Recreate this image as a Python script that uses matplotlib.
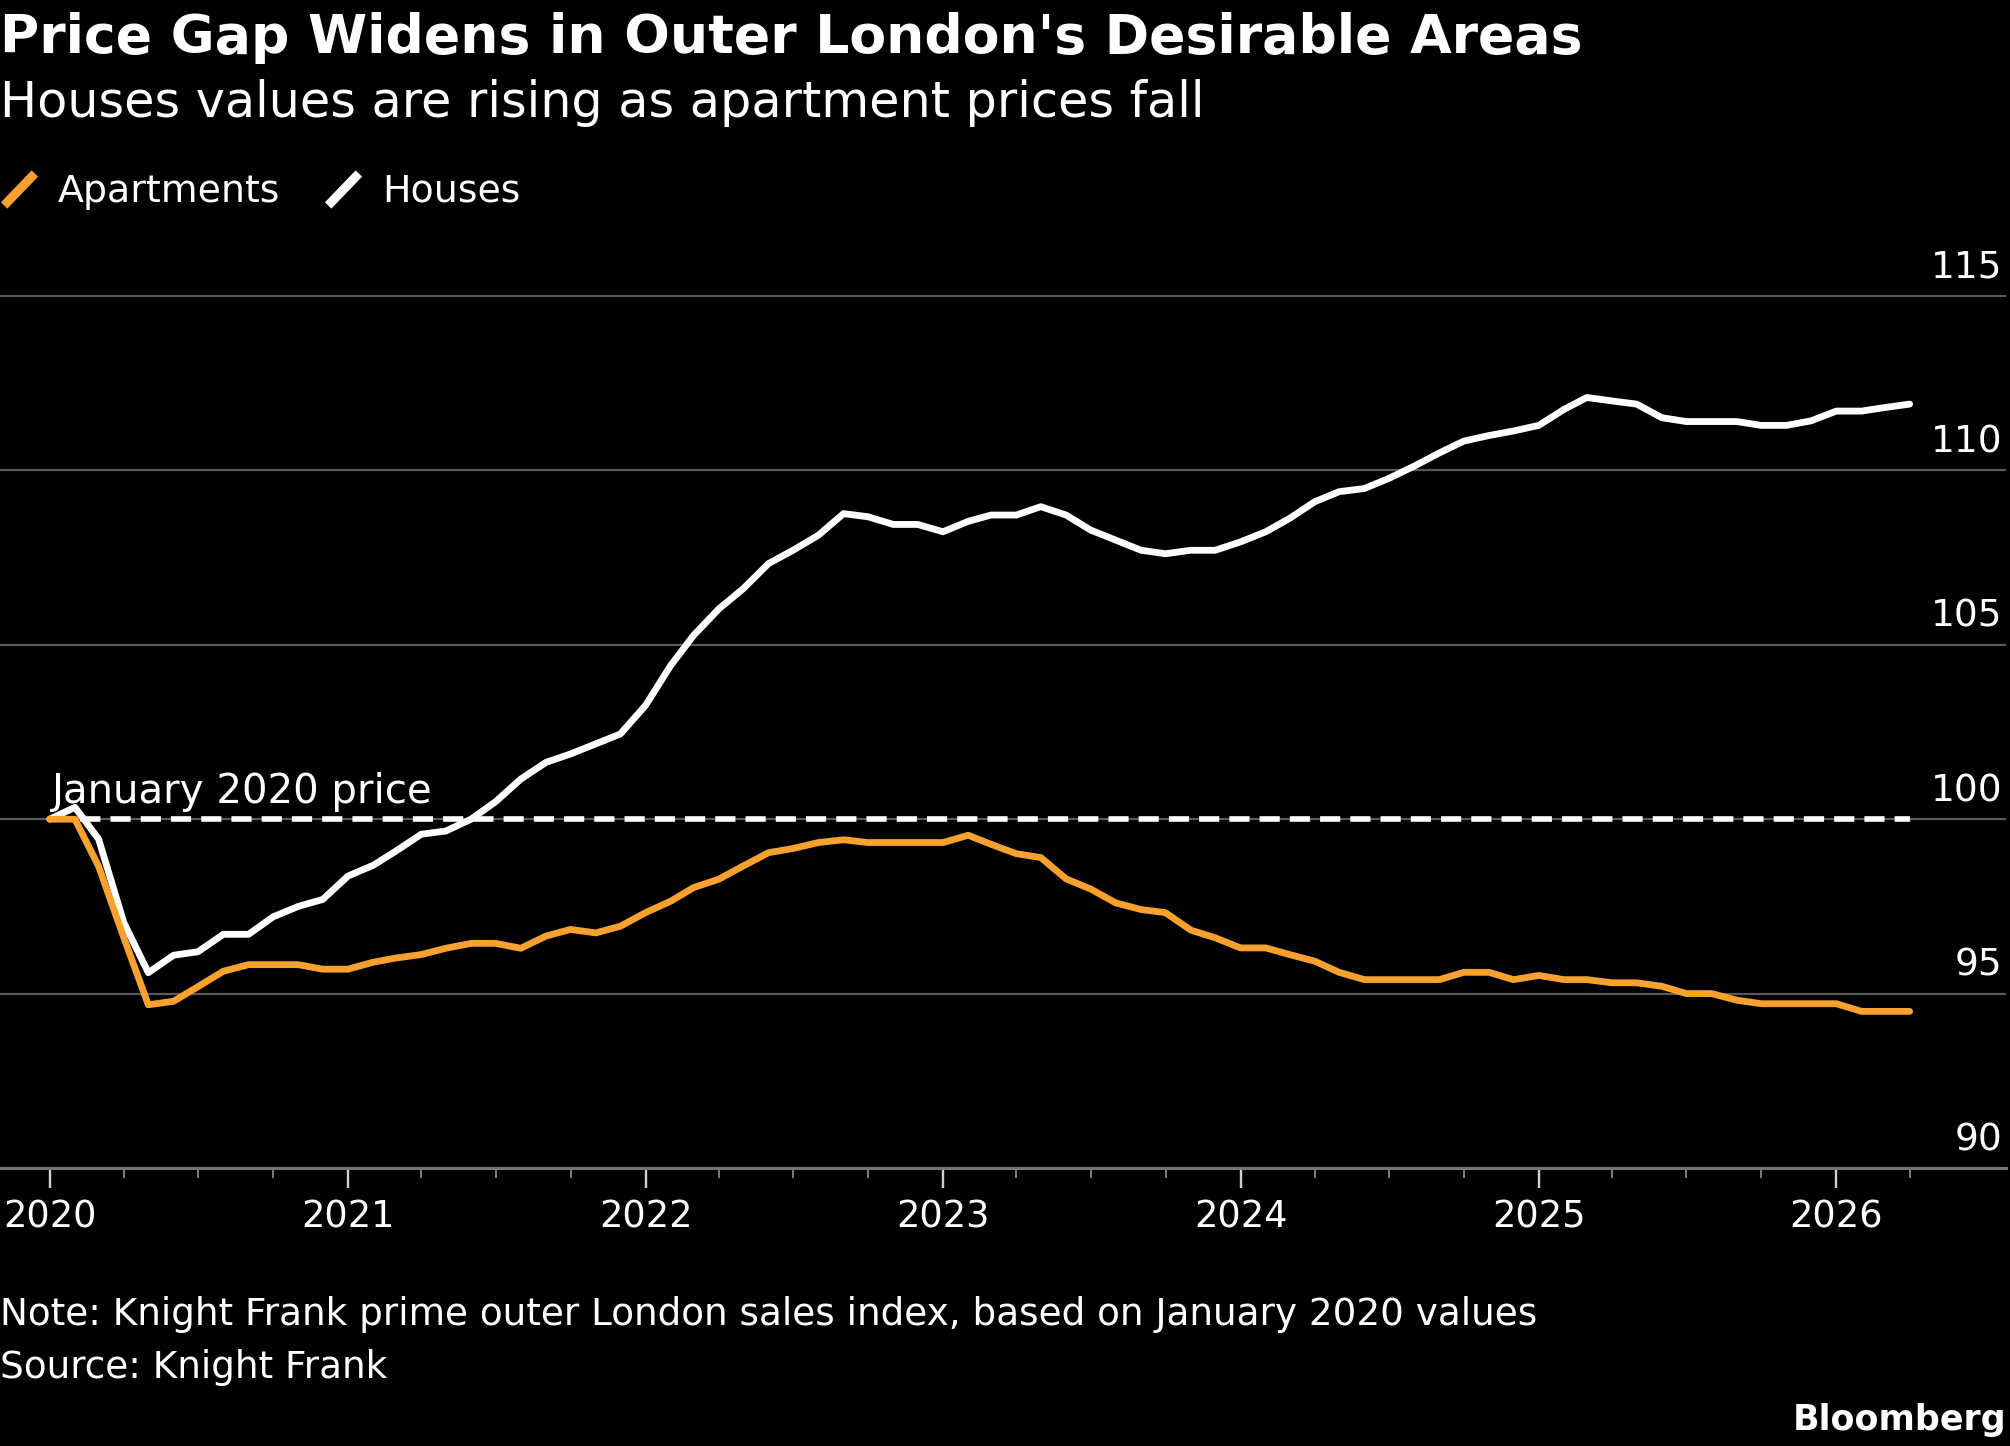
import numpy as np
import pandas as pd
import matplotlib
matplotlib.use("Agg")
import matplotlib.pyplot as plt
import matplotlib.dates as mdates
from matplotlib.path import Path
from matplotlib.lines import Line2D
from matplotlib.transforms import ScaledTranslation

# ---------------- data ----------------
start_month = "2020-01-01"
apartments = [
    100.0, 100.0, 98.65, 96.6, 94.68, 94.78, 95.2, 95.64, 95.83, 95.83, 95.83, 95.7,
    95.7, 95.9, 96.02, 96.12, 96.3, 96.44, 96.44, 96.3, 96.65, 96.84, 96.74, 96.93,
    97.32, 97.65, 98.04, 98.28, 98.66, 99.04, 99.16, 99.33, 99.41, 99.33, 99.33, 99.33,
    99.33, 99.54, 99.28, 99.01, 98.9, 98.29, 98.0, 97.6, 97.41, 97.32, 96.82, 96.6,
    96.31, 96.31, 96.12, 95.93, 95.61, 95.4, 95.4, 95.4, 95.4, 95.61, 95.61, 95.4,
    95.52, 95.4, 95.4, 95.31, 95.31, 95.21, 95.0, 95.0, 94.81, 94.71, 94.71, 94.71,
    94.71, 94.49, 94.49, 94.49,
]
houses = [
    100.0, 100.34, 99.43, 97.03, 95.6, 96.1, 96.2, 96.7, 96.7, 97.2, 97.5, 97.7,
    98.37, 98.68, 99.09, 99.57, 99.66, 100.0, 100.5, 101.15, 101.63, 101.87, 102.16, 102.44,
    103.26, 104.41, 105.27, 106.03, 106.61, 107.33, 107.71, 108.14, 108.76, 108.67, 108.45, 108.45,
    108.24, 108.54, 108.72, 108.72, 108.96, 108.72, 108.29, 108.0, 107.71, 107.61, 107.71, 107.71,
    107.95, 108.24, 108.62, 109.1, 109.39, 109.48, 109.77, 110.12, 110.5, 110.84, 111.0, 111.13,
    111.29, 111.75, 112.09, 111.99, 111.9, 111.51, 111.4, 111.4, 111.4, 111.29, 111.29, 111.42,
    111.7, 111.7, 111.8, 111.9,
]
months = pd.date_range(start_month, periods=len(houses), freq="MS")
baseline_value = 100
baseline_label = "January 2020 price"
series_names = ["Apartments", "Houses"]
y_ticks = [90, 95, 100, 105, 110, 115]
y_tick_labels = ["90", "95", "100", "105", "110", "115"]
x_tick_years = [2020, 2021, 2022, 2023, 2024, 2025, 2026]
x_tick_labels = ["2020", "2021", "2022", "2023", "2024", "2025", "2026"]
title = "Price Gap Widens in Outer London's Desirable Areas"
subtitle = "Houses values are rising as apartment prices fall"
note = "Note: Knight Frank prime outer London sales index, based on January 2020 values"
source = "Source: Knight Frank"
brand = "Bloomberg"

# ---------------- style ----------------
ORANGE = "#f9a12e"
WHITE = "#ffffff"
GRID = "#5a5a5a"
W, H = 2010, 1446
DPI = 100
PT = 72.0 / DPI  # points per pixel

plt.rcParams["font.family"] = ["DejaVu Sans"]

fig = plt.figure(figsize=(W / DPI, H / DPI), dpi=DPI, facecolor="black")


def fx(px):
    return px / W


def fy(py):
    return 1 - py / H


AX_BOTTOM = 1168.0
AX_TOP = 261.1
AX_RIGHT = 2006.0
ax = fig.add_axes([0, fy(AX_BOTTOM), fx(AX_RIGHT), (AX_BOTTOM - AX_TOP) / H])
ax.set_facecolor("black")

renderer = fig.canvas.get_renderer()


def fit(t, target_px):
    for _ in range(3):
        w = t.get_window_extent(renderer=renderer).width
        t.set_fontsize(t.get_fontsize() * target_px / w)
    return t.get_fontsize()


# x geometry
x0 = mdates.date2num(months[0])
px_per_day = 297.7 / 365.25
left_px = 49.7
ax.set_xlim(x0 - left_px / px_per_day, x0 + (AX_RIGHT - left_px) / px_per_day)
ax.set_ylim(90, 116)

# lines
ax.plot([months[0], months[-1]], [baseline_value, baseline_value], color=WHITE,
        lw=5.6 * PT, dashes=(3.6, 1.8), dash_capstyle="butt", zorder=3)
ax.plot(months, houses, color=WHITE, lw=6.8 * PT, solid_joinstyle="round",
        solid_capstyle="round", zorder=4)
ax.plot(months, apartments, color=ORANGE, lw=6.8 * PT, solid_joinstyle="round",
        solid_capstyle="round", zorder=5)

ann = ax.annotate(baseline_label, xy=(months[0], baseline_value),
                  xytext=(1 * PT, 16 * PT), textcoords="offset points",
                  ha="left", va="baseline", color=WHITE, fontsize=30, zorder=6)
fit(ann, 381)

# grid / spines
ax.set_yticks(y_ticks, y_tick_labels)
ax.yaxis.tick_right()
ax.grid(axis="y", color=GRID, linewidth=2.2 * PT)
ax.grid(axis="x", visible=False)
ax.set_axisbelow(True)
for s in ["top", "left", "right"]:
    ax.spines[s].set_visible(False)
ax.spines["bottom"].set_color("#767676")
ax.spines["bottom"].set_linewidth(3.0 * PT)
ax.spines["bottom"].set_zorder(2)

major = [pd.Timestamp(f"{y}-01-01") for y in x_tick_years]
ax.set_xticks(major, x_tick_labels)
minor = [d for d in pd.date_range(months[0], months[-1], freq="QS") if d.month != 1]
ax.set_xticks(minor, minor=True)

ax.tick_params(axis="x", which="major", direction="out", length=20 * PT, width=2.4 * PT,
               color="#d0d0d0", labelcolor=WHITE, labelsize=26.5, pad=10 * PT)
ax.tick_params(axis="x", which="minor", direction="out", length=10 * PT, width=2.0 * PT,
               color="#7a7a7a")
ax.tick_params(axis="y", which="both", length=0, labelcolor=WHITE, labelsize=27,
               pad=-4 * PT, labelright=True, labelleft=False)

off = ScaledTranslation(0, 18 / DPI, fig.dpi_scale_trans)
for lbl in ax.get_yticklabels():
    lbl.set_ha("right")
    lbl.set_va("baseline")
    lbl.set_transform(lbl.get_transform() + off)

# titles
t = fig.text(0, fy(53), title, ha="left", va="baseline", color=WHITE,
             fontweight="bold", fontsize=40)
fit(t, 1579)
st = fig.text(0, fy(117), subtitle, ha="left", va="baseline", color=WHITE, fontsize=34)
fit(st, 1205)

# legend
tmp = fig.text(0, 0, series_names[0], fontsize=27)
leg_fs = fit(tmp, 222)
tmp.remove()
slash = Path([(-0.5, -0.52), (0.5, 0.52)], [Path.MOVETO, Path.LINETO])
handles = [
    Line2D([], [], linestyle="None", marker=slash, markersize=23, markeredgewidth=6.5,
           markeredgecolor=c, markerfacecolor=c)
    for c in (ORANGE, WHITE)
]
fs_px = leg_fs / PT
leg = fig.legend(handles, series_names, loc="upper left", bbox_to_anchor=(fx(0), fy(174)),
                 frameon=False, ncol=2, fontsize=leg_fs, labelcolor=WHITE, numpoints=1,
                 handlelength=38 / fs_px, handletextpad=20 / fs_px,
                 columnspacing=44 / fs_px, borderpad=0, borderaxespad=0)

# footer
n = fig.text(0, fy(1325), note, ha="left", va="baseline", color=WHITE, fontsize=28)
nfs = fit(n, 1538)
fig.text(0, fy(1378), source, ha="left", va="baseline", color=WHITE, fontsize=nfs)
b = fig.text(fx(2006), fy(1430), brand, ha="right", va="baseline", color=WHITE,
             fontweight="bold", fontsize=28)
fit(b, 214)

fig.savefig("out.png", dpi=DPI, facecolor="black")
